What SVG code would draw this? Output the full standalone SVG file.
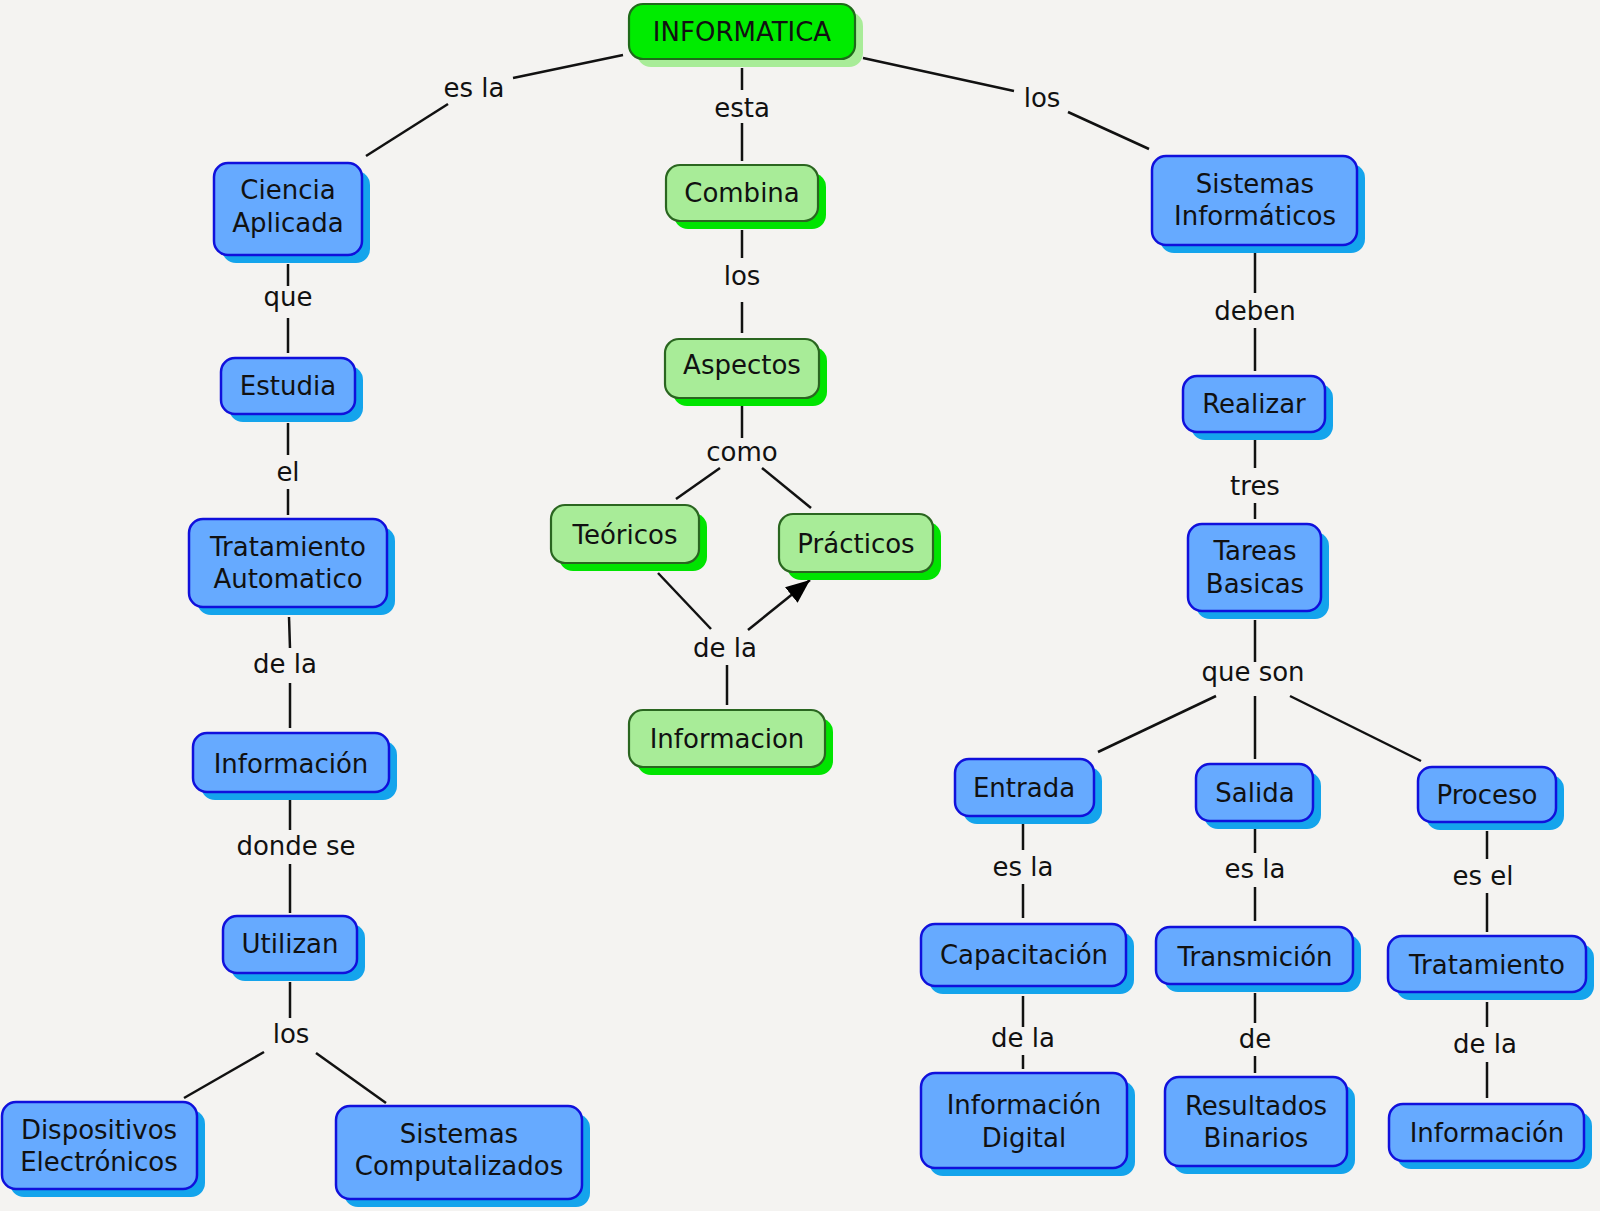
<svg xmlns="http://www.w3.org/2000/svg" width="1600" height="1211" viewBox="0 0 1600 1211">
<defs>
<style>
.bg{fill:#f4f3f1}
.bs{fill:#14a4ec}
.b{fill:#66aaff;stroke:#1010dc;stroke-width:2.5}
.gs{fill:#00e400}
.g{fill:#a8ec98;stroke:#2a6620;stroke-width:2.2}
.ts{fill:#a8ec98}
.tb{fill:#00ec00;stroke:#1f6a1a;stroke-width:2.2}
text{font-family:"DejaVu Sans","Liberation Sans",sans-serif;font-size:26px;fill:#111;text-anchor:middle}
.c line{stroke:#111;stroke-width:2.5;fill:none}
</style>
<marker id="arr" markerUnits="userSpaceOnUse" markerWidth="26" markerHeight="22" refX="24" refY="10" orient="auto">
<path d="M0,0 L24,10 L0,20 z" fill="#000"/>
</marker>
</defs>
<rect class="bg" x="0" y="0" width="1600" height="1211"/>

<g id="connectors" class="c">
<line x1="623" y1="55" x2="513" y2="78"/>
<line x1="448" y1="104" x2="366" y2="156"/>
<line x1="742" y1="68" x2="742" y2="90"/>
<line x1="742" y1="123" x2="742" y2="161"/>
<line x1="863" y1="58" x2="1014" y2="91"/>
<line x1="1068" y1="112" x2="1149" y2="149"/>
<line x1="288" y1="264" x2="288" y2="286"/>
<line x1="288" y1="318" x2="288" y2="353"/>
<line x1="742" y1="230" x2="742" y2="258"/>
<line x1="742" y1="302" x2="742" y2="333"/>
<line x1="288" y1="423" x2="288" y2="455"/>
<line x1="288" y1="489" x2="288" y2="515"/>
<line x1="289" y1="617" x2="290" y2="648"/>
<line x1="290" y1="683" x2="290" y2="728"/>
<line x1="290" y1="800" x2="290" y2="830"/>
<line x1="290" y1="864" x2="290" y2="913"/>
<line x1="290" y1="982" x2="290" y2="1018"/>
<line x1="264" y1="1052" x2="184" y2="1098"/>
<line x1="316" y1="1053" x2="386" y2="1103"/>
<line x1="742" y1="398" x2="742" y2="438"/>
<line x1="720" y1="468" x2="676" y2="499"/>
<line x1="762" y1="468" x2="811" y2="508"/>
<line x1="658" y1="573" x2="711" y2="629"/>
<line x1="748" y1="630" x2="810" y2="580" marker-end="url(#arr)"/>
<line x1="727" y1="665" x2="727" y2="705"/>
<line x1="1255" y1="253" x2="1255" y2="293"/>
<line x1="1255" y1="328" x2="1255" y2="371"/>
<line x1="1255" y1="432" x2="1255" y2="468"/>
<line x1="1255" y1="503" x2="1255" y2="519"/>
<line x1="1255" y1="620" x2="1255" y2="662"/>
<line x1="1216" y1="696" x2="1098" y2="752"/>
<line x1="1255" y1="696" x2="1255" y2="759"/>
<line x1="1290" y1="696" x2="1421" y2="761"/>
<line x1="1023" y1="816" x2="1023" y2="850"/>
<line x1="1023" y1="884" x2="1023" y2="918"/>
<line x1="1023" y1="996" x2="1023" y2="1027"/>
<line x1="1023" y1="1055" x2="1023" y2="1069"/>
<line x1="1255" y1="828" x2="1255" y2="853"/>
<line x1="1255" y1="887" x2="1255" y2="921"/>
<line x1="1255" y1="993" x2="1255" y2="1023"/>
<line x1="1255" y1="1056" x2="1255" y2="1073"/>
<line x1="1487" y1="831" x2="1487" y2="859"/>
<line x1="1487" y1="893" x2="1487" y2="932"/>
<line x1="1487" y1="1002" x2="1487" y2="1027"/>
<line x1="1487" y1="1062" x2="1487" y2="1098"/>
</g>

<g id="labels">
<text x="474" y="97">es la</text>
<text x="742" y="117">esta</text>
<text x="1042" y="107">los</text>
<text x="288" y="306">que</text>
<text x="742" y="285">los</text>
<text x="1255" y="320">deben</text>
<text x="288" y="481">el</text>
<text x="742" y="461">como</text>
<text x="285" y="673">de la</text>
<text x="725" y="657">de la</text>
<text x="296" y="855">donde se</text>
<text x="291" y="1043">los</text>
<text x="1255" y="495">tres</text>
<text x="1253" y="681">que son</text>
<text x="1023" y="876">es la</text>
<text x="1023" y="1047">de la</text>
<text x="1255" y="878">es la</text>
<text x="1255" y="1048">de</text>
<text x="1483" y="885">es el</text>
<text x="1485" y="1053">de la</text>
</g>

<g id="n-informatica">
<rect class="ts" x="637" y="12" width="226" height="55" rx="14"/>
<rect class="tb" x="629" y="4" width="226" height="55" rx="14"/>
<text x="742" y="41">INFORMATICA</text>
</g>

<g id="n-ciencia">
<rect class="bs" x="222" y="171" width="148" height="92" rx="14"/>
<rect class="b" x="214" y="163" width="148" height="92" rx="14"/>
<text x="288" y="199">Ciencia</text>
<text x="288" y="232">Aplicada</text>
</g>

<g id="n-estudia">
<rect class="bs" x="229" y="366" width="134" height="56" rx="14"/>
<rect class="b" x="221" y="358" width="134" height="56" rx="14"/>
<text x="288" y="395">Estudia</text>
</g>

<g id="n-tratamiento-auto">
<rect class="bs" x="197" y="527" width="198" height="88" rx="14"/>
<rect class="b" x="189" y="519" width="198" height="88" rx="14"/>
<text x="288" y="556">Tratamiento</text>
<text x="288" y="588">Automatico</text>
</g>

<g id="n-informacion-left">
<rect class="bs" x="201" y="741" width="196" height="59" rx="14"/>
<rect class="b" x="193" y="733" width="196" height="59" rx="14"/>
<text x="291" y="773">Información</text>
</g>

<g id="n-utilizan">
<rect class="bs" x="231" y="924" width="134" height="57" rx="14"/>
<rect class="b" x="223" y="916" width="134" height="57" rx="14"/>
<text x="290" y="953">Utilizan</text>
</g>

<g id="n-dispositivos">
<rect class="bs" x="10" y="1110" width="195" height="87" rx="14"/>
<rect class="b" x="2" y="1102" width="195" height="87" rx="14"/>
<text x="99" y="1139">Dispositivos</text>
<text x="99" y="1171">Electrónicos</text>
</g>

<g id="n-sistemas-comp">
<rect class="bs" x="344" y="1114" width="246" height="93" rx="14"/>
<rect class="b" x="336" y="1106" width="246" height="93" rx="14"/>
<text x="459" y="1143">Sistemas</text>
<text x="459" y="1175">Computalizados</text>
</g>

<g id="n-combina">
<rect class="gs" x="674" y="173" width="152" height="56" rx="14"/>
<rect class="g" x="666" y="165" width="152" height="56" rx="14"/>
<text x="742" y="202">Combina</text>
</g>

<g id="n-aspectos">
<rect class="gs" x="673" y="347" width="154" height="59" rx="14"/>
<rect class="g" x="665" y="339" width="154" height="59" rx="14"/>
<text x="742" y="374">Aspectos</text>
</g>

<g id="n-teoricos">
<rect class="gs" x="559" y="513" width="148" height="58" rx="14"/>
<rect class="g" x="551" y="505" width="148" height="58" rx="14"/>
<text x="625" y="544">Teóricos</text>
</g>

<g id="n-practicos">
<rect class="gs" x="787" y="522" width="154" height="58" rx="14"/>
<rect class="g" x="779" y="514" width="154" height="58" rx="14"/>
<text x="856" y="553">Prácticos</text>
</g>

<g id="n-informacion-green">
<rect class="gs" x="637" y="718" width="196" height="57" rx="14"/>
<rect class="g" x="629" y="710" width="196" height="57" rx="14"/>
<text x="727" y="748">Informacion</text>
</g>

<g id="n-sistemas-inf">
<rect class="bs" x="1160" y="164" width="205" height="89" rx="14"/>
<rect class="b" x="1152" y="156" width="205" height="89" rx="14"/>
<text x="1255" y="193">Sistemas</text>
<text x="1255" y="225">Informáticos</text>
</g>

<g id="n-realizar">
<rect class="bs" x="1191" y="384" width="142" height="56" rx="14"/>
<rect class="b" x="1183" y="376" width="142" height="56" rx="14"/>
<text x="1254" y="413">Realizar</text>
</g>

<g id="n-tareas">
<rect class="bs" x="1196" y="532" width="133" height="87" rx="14"/>
<rect class="b" x="1188" y="524" width="133" height="87" rx="14"/>
<text x="1255" y="560">Tareas</text>
<text x="1255" y="593">Basicas</text>
</g>

<g id="n-entrada">
<rect class="bs" x="963" y="767" width="139" height="57" rx="14"/>
<rect class="b" x="955" y="759" width="139" height="57" rx="14"/>
<text x="1024" y="797">Entrada</text>
</g>

<g id="n-salida">
<rect class="bs" x="1204" y="772" width="117" height="57" rx="14"/>
<rect class="b" x="1196" y="764" width="117" height="57" rx="14"/>
<text x="1255" y="802">Salida</text>
</g>

<g id="n-proceso">
<rect class="bs" x="1426" y="775" width="138" height="55" rx="14"/>
<rect class="b" x="1418" y="767" width="138" height="55" rx="14"/>
<text x="1487" y="804">Proceso</text>
</g>

<g id="n-capacitacion">
<rect class="bs" x="929" y="932" width="205" height="62" rx="14"/>
<rect class="b" x="921" y="924" width="205" height="62" rx="14"/>
<text x="1024" y="964">Capacitación</text>
</g>

<g id="n-transmicion">
<rect class="bs" x="1164" y="935" width="197" height="57" rx="14"/>
<rect class="b" x="1156" y="927" width="197" height="57" rx="14"/>
<text x="1255" y="966">Transmición</text>
</g>

<g id="n-tratamiento-right">
<rect class="bs" x="1396" y="944" width="198" height="56" rx="14"/>
<rect class="b" x="1388" y="936" width="198" height="56" rx="14"/>
<text x="1487" y="974">Tratamiento</text>
</g>

<g id="n-info-digital">
<rect class="bs" x="929" y="1081" width="206" height="95" rx="14"/>
<rect class="b" x="921" y="1073" width="206" height="95" rx="14"/>
<text x="1024" y="1114">Información</text>
<text x="1024" y="1147">Digital</text>
</g>

<g id="n-resultados">
<rect class="bs" x="1173" y="1085" width="182" height="89" rx="14"/>
<rect class="b" x="1165" y="1077" width="182" height="89" rx="14"/>
<text x="1256" y="1115">Resultados</text>
<text x="1256" y="1147">Binarios</text>
</g>

<g id="n-informacion-right">
<rect class="bs" x="1397" y="1112" width="195" height="57" rx="14"/>
<rect class="b" x="1389" y="1104" width="195" height="57" rx="14"/>
<text x="1487" y="1142">Información</text>
</g>
</svg>
